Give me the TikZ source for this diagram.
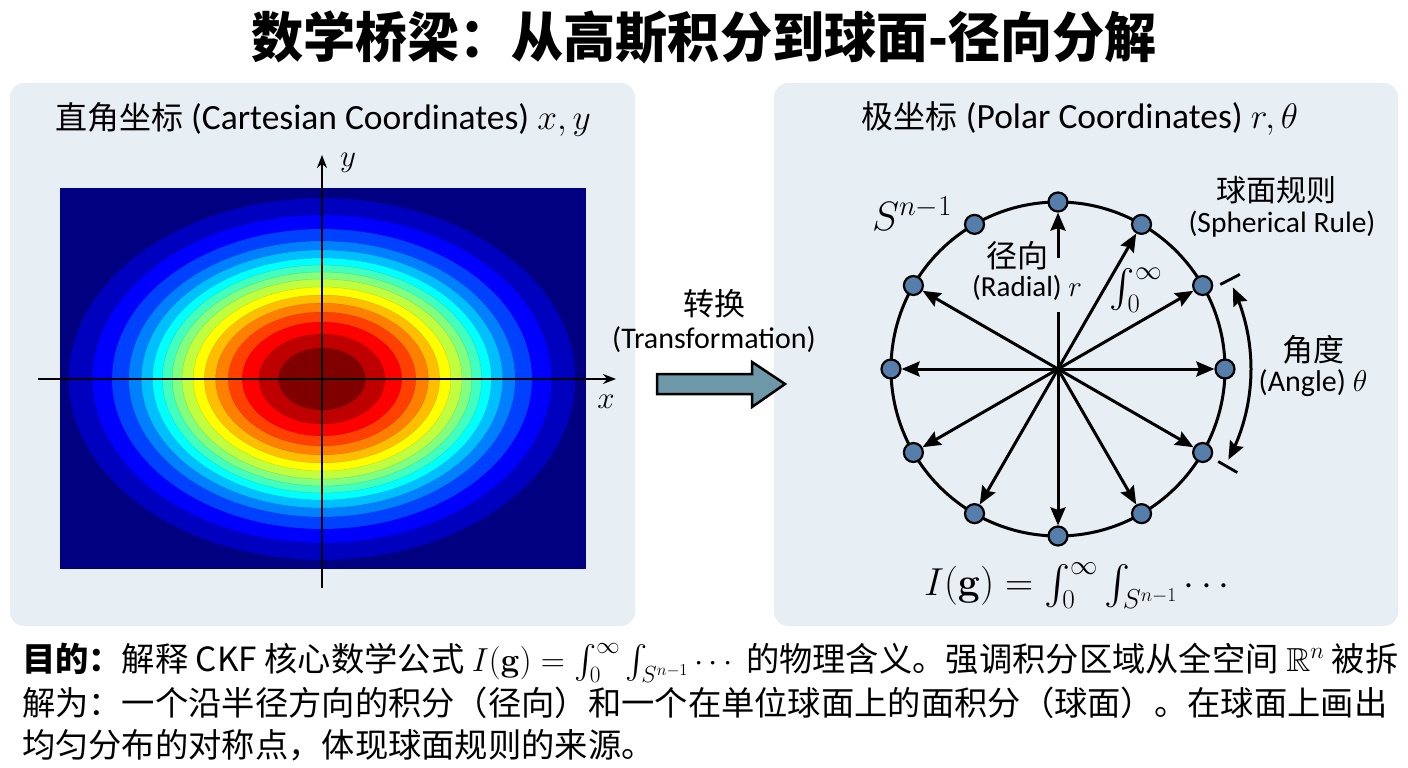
\RequirePackage{fix-cm}
\documentclass[tikz,border=0pt]{standalone}
\usepackage{graphicx}
\usepackage{amsmath,amssymb}
\usepackage[no-math]{fontspec}
\setmainfont{Carlito}
\newfontfamily\cjk{Noto Sans CJK SC}
\usetikzlibrary{arrows.meta,calc}
\definecolor{panelbg}{RGB}{232,239,244}
\definecolor{dotblue}{RGB}{86,126,170}
\definecolor{bigarrow}{RGB}{108,152,168}
\definecolor{j0}{rgb}{0,0,0.5}
\definecolor{j1}{rgb}{0,0,0.75}
\definecolor{j2}{rgb}{0,0,1}
\definecolor{j3}{rgb}{0,0.25,1}
\definecolor{j4}{rgb}{0,0.5,1}
\definecolor{j5}{rgb}{0,0.75,1}
\definecolor{j6}{rgb}{0,1,1}
\definecolor{j7}{rgb}{0.25,1,0.75}
\definecolor{j8}{rgb}{0.5,1,0.5}
\definecolor{j9}{rgb}{0.75,1,0.25}
\definecolor{j10}{rgb}{1,1,0}
\definecolor{j11}{rgb}{1,0.75,0}
\definecolor{j12}{rgb}{1,0.5,0}
\definecolor{j13}{rgb}{1,0.25,0}
\definecolor{j14}{rgb}{1,0,0}
\definecolor{j15}{rgb}{0.75,0,0}
\definecolor{j16}{rgb}{0.5,0,0}
\tikzset{
  panelbox/.style={fill=panelbg, rounded corners=14pt},
  axisarrow/.style={line width=2pt, -{Stealth[length=13pt,width=10pt]}},
  ray/.style={line width=3pt, -{Stealth[length=18pt,width=15pt,inset=2.5pt]}},
  dotnode/.style={circle, fill=dotblue, draw=black, line width=2.2pt, minimum size=19pt, inner sep=0pt},
  lbl/.style={inner sep=0pt, outer sep=0pt},
}
\begin{document}
\begin{tikzpicture}[x=1pt,y=-1pt]
\useasboundingbox (0,0) rectangle (1408,768);
\fill[white] (0,0) rectangle (1408,768);

% title
\node[lbl] (title) at (704,37) {\scalebox{0.965}[1]{\cjk\bfseries\fontsize{54}{60}\selectfont 数学桥梁：从高斯积分到球面-径向分解}};

% panels
\fill[panelbox] (10,83) rectangle (635,626);
\fill[panelbox] (774,83) rectangle (1398,626);

% headings
\node[lbl, font=\fontsize{35.5}{40}\selectfont] (lhead) at (323,119) {{\cjk\fontsize{32}{38}\selectfont 直角坐标} (Cartesian Coordinates) $x, y$};
\node[lbl, font=\fontsize{35.5}{40}\selectfont] (rhead) at (1080,119) {{\cjk\fontsize{32}{38}\selectfont 极坐标} (Polar Coordinates) $r, \theta$};

% heat map
\begin{scope}
\clip (60,188) rectangle (586,569);
\fill[j0] (60,188) rectangle (586,569);
\coordinate (hc) at (322,379);
\foreach \b [count=\i] in {181,164,150,138,129,121,114,107,100,92,84,76,67,57,45,31} {
  \fill[fill=j\i, draw=black, draw opacity=0.12, line width=0.5pt] (hc) ellipse [x radius={1.40*\b*1pt}, y radius={\b*1pt}];
}
\end{scope}

% axes
\coordinate (xa0) at (38,379);
\coordinate (xa1) at (616,379);
\coordinate (ya0) at (322,588);
\coordinate (ya1) at (322,155);
\draw[axisarrow] (xa0) -- (xa1);
\draw[axisarrow] (ya0) -- (ya1);
\node[lbl, font=\fontsize{31}{34}\selectfont] (xl) at (606,402) {$x$};
\node[lbl, font=\fontsize{31}{34}\selectfont] (yl) at (348,163) {$y$};

% transformation arrow
\node[lbl] (trcn) at (714,304) {\cjk\fontsize{31}{34}\selectfont 转换};
\node[lbl] (tren) at (714,340) {\fontsize{30}{34}\selectfont (Transformation)};
\filldraw[fill=bigarrow, draw=black, line width=2.5pt, line join=miter]
  (657,374) -- (752,374) -- (752,362) -- (785,384) -- (752,407) -- (752,394) -- (657,394) -- cycle;

% polar diagram
\coordinate (c) at (1058,369);
\draw[line width=3pt] (c) circle [radius=167pt];
\foreach \a in {0,30,...,330} {
  \node[dotnode] (d\a) at ($(c)+(-\a:167)$) {};
}
\foreach \a in {0,30,60,150,180,210,240,270,300,330} {
  \draw[ray] (c) -- (d\a);
}
\coordinate (rb) at (1058,312);
\coordinate (rt) at (1058,258);
\draw[line width=3pt] (c) -- (rb);
\draw[ray] (rt) -- (d90);

% angle arc and ticks
\draw[line width=3pt, {Stealth[length=18pt,width=15pt,inset=2.5pt]}-{Stealth[length=18pt,width=15pt,inset=2.5pt]}]
  plot[domain=25:-28, samples=40, smooth] ({1058+193*cos(\x)},{369-193*sin(\x)});
\coordinate (t1a) at ($(c)+(-27.5:183)$);
\coordinate (t1b) at ($(c)+(-27.5:205)$);
\coordinate (t2a) at ($(c)+(30:185)$);
\coordinate (t2b) at ($(c)+(30:207)$);
\draw[line width=2.8pt] (t1a) -- (t1b);
\draw[line width=2.8pt] (t2a) -- (t2b);

% labels
\node[lbl, font=\fontsize{41}{44}\selectfont] (sn) at (912,214) {$S^{n-1}$};
\node[lbl] (radcn) at (1017,256) {\cjk\fontsize{31}{34}\selectfont 径向};
\node[lbl, font=\fontsize{29}{32}\selectfont] (raden) at (1027,288) {(Radial) $r$};
\node[lbl, font=\fontsize{38}{42}\selectfont] (rint) at (1136,290) {$\int_0^\infty$};
\node[lbl] (sphcn) at (1276,190) {\cjk\fontsize{30}{34}\selectfont 球面规则};
\node[lbl, font=\fontsize{29.5}{32}\selectfont] (sphen) at (1282,224) {(Spherical Rule)};
\node[lbl] (angcn) at (1313,350) {\cjk\fontsize{31}{34}\selectfont 角度};
\node[lbl, font=\fontsize{30}{32}\selectfont] (angen) at (1313,383) {(Angle) $\theta$};
\node[lbl, font=\fontsize{39}{42}\selectfont] (formula) at (1080,586)
  {$I(\mathbf{g}) = \int_0^\infty \int_{S^{n-1}} \cdots$};

% bottom text
\node[lbl, anchor=base west, font=\cjk\fontsize{33.3}{40}\selectfont] (line1) at (22,671)
  {{\bfseries 目的：}解释 CKF 核心数学公式 $I(\mathbf{g}) = \int_0^\infty \int_{S^{n-1}} \cdots$ 的物理含义。强调积分区域从全空间 $\mathbb{R}^n$ 被拆};
\node[lbl, anchor=base west, font=\cjk\fontsize{33.3}{40}\selectfont] (line2) at (22,715)
  {解为：一个沿半径方向的积分（径向）和一个在单位球面上的面积分（球面）。在球面上画出};
\node[lbl, anchor=base west, font=\cjk\fontsize{33.3}{40}\selectfont] (line3) at (22,757)
  {均匀分布的对称点，体现球面规则的来源。};
\end{tikzpicture}
\end{document}
